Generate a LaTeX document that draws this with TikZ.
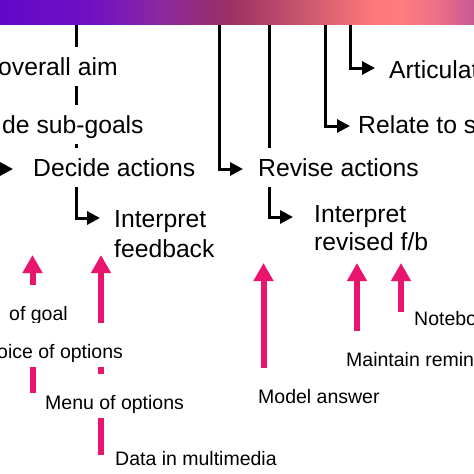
\documentclass[tikz,border=0pt]{standalone}
\usepackage{fontspec}
\setmainfont{Liberation Sans}
\usetikzlibrary{arrows.meta,backgrounds}
\definecolor{pinkarrow}{RGB}{232,20,110}
\pgfdeclarehorizontalshading{barshade}{100bp}{rgb(0bp)=(0.384,0.031,0.784); rgb(25bp)=(0.384,0.031,0.784); rgb(34.49bp)=(0.439,0.063,0.769); rgb(41.88bp)=(0.549,0.157,0.627); rgb(49.26bp)=(0.608,0.188,0.392); rgb(56.65bp)=(0.784,0.333,0.431); rgb(64.03bp)=(0.980,0.471,0.478); rgb(67.19bp)=(1,0.490,0.490); rgb(71.41bp)=(0.922,0.431,0.529); rgb(75bp)=(0.776,0.345,0.588); rgb(100bp)=(0.776,0.345,0.588)}
\begin{document}
\begin{tikzpicture}[x=1pt,y=-1pt,
 big/.style={anchor=base west, inner sep=0pt, font=\fontsize{24.7}{30}\selectfont, text height=28.5pt, text depth=11pt, fill=white},
 small/.style={anchor=base west, inner sep=0pt, font=\fontsize{19.5}{23}\selectfont, text height=35pt, text depth=9pt, fill=white},
 twoline/.style={anchor=base west, inner sep=0pt, align=left},
 blk/.style={line width=3pt, -{Triangle[length=13pt,width=13pt]}},
 pnk/.style={line width=6pt, pinkarrow, -{Triangle[length=18pt,width=19pt]}}
]
\useasboundingbox (0,0) rectangle (474,474);
\clip (0,0) rectangle (474,474);
% top bar
\node[anchor=north west, inner sep=0pt, minimum width=474pt, minimum height=24pt, shading=barshade] (bar) at (0,0) {};
% text nodes
\node[big] (overall) at (-2,75) {overall aim};
\node[big] (subgoals) at (2,133) {de sub-goals};
\node[big] (decide) at (33,176) {Decide actions};
\node[big] (revise) at (258,176) {Revise actions};
\node[big] (relate) at (358,133) {Relate to s};
\node[big] (artic) at (389,78) {Articulat};
\node[twoline, font=\fontsize{24.7}{30}\selectfont] (interpL) at (114,257) {Interpret\\feedback};
\node[twoline, font=\fontsize{24.7}{28}\selectfont] (interpR) at (314,250) {Interpret\\revised f/b};
\node[small] (ofgoal) at (9,320) {of goal};
\node[small] (choice) at (-3,358) {oice of options};
\node[small] (menu) at (45,409) {Menu of options};
\node[small] (data) at (115,465) {Data in multimedia};
\node[small] (model) at (258,403) {Model answer};
\node[small] (maintain) at (346,366) {Maintain remin};
\node[small] (notebo) at (414,325) {Notebo};
% coordinates
\coordinate (tC1) at (100,218);
\coordinate (tC2) at (243,169);
\coordinate (tC3) at (293,217);
\coordinate (tC4) at (350,126);
\coordinate (tC5) at (375,68);
\coordinate (sC6) at (-20,169);
\coordinate (tC6) at (13,169);
\coordinate (tA1) at (32.5,255);
\coordinate (sA1) at (32.5,393);
\coordinate (tA2) at (101,255);
\coordinate (sA2) at (101,455);
\coordinate (tA3) at (263.5,263);
\coordinate (tA4) at (357,263);
\coordinate (tA5) at (401,263);
\coordinate (sA5) at (401,312);
\begin{pgfonlayer}{background}
\draw[blk] ([xshift=76pt]bar.south west) |- (tC1);
\draw[blk] ([xshift=219pt]bar.south west) |- (tC2);
\draw[blk] ([xshift=269pt]bar.south west) |- (tC3);
\draw[blk] ([xshift=325pt]bar.south west) |- (tC4);
\draw[blk] ([xshift=350pt]bar.south west) |- (tC5);
\draw[blk] (sC6) -- (tC6);
\draw[pnk] (sA1) -- (tA1);
\draw[pnk] (sA2) -- (tA2);
\draw[pnk] (model.north -| tA3) -- (tA3);
\draw[pnk] (maintain.north -| tA4) -- (tA4);
\draw[pnk] (sA5) -- (tA5);
\end{pgfonlayer}
\end{tikzpicture}
\end{document}
